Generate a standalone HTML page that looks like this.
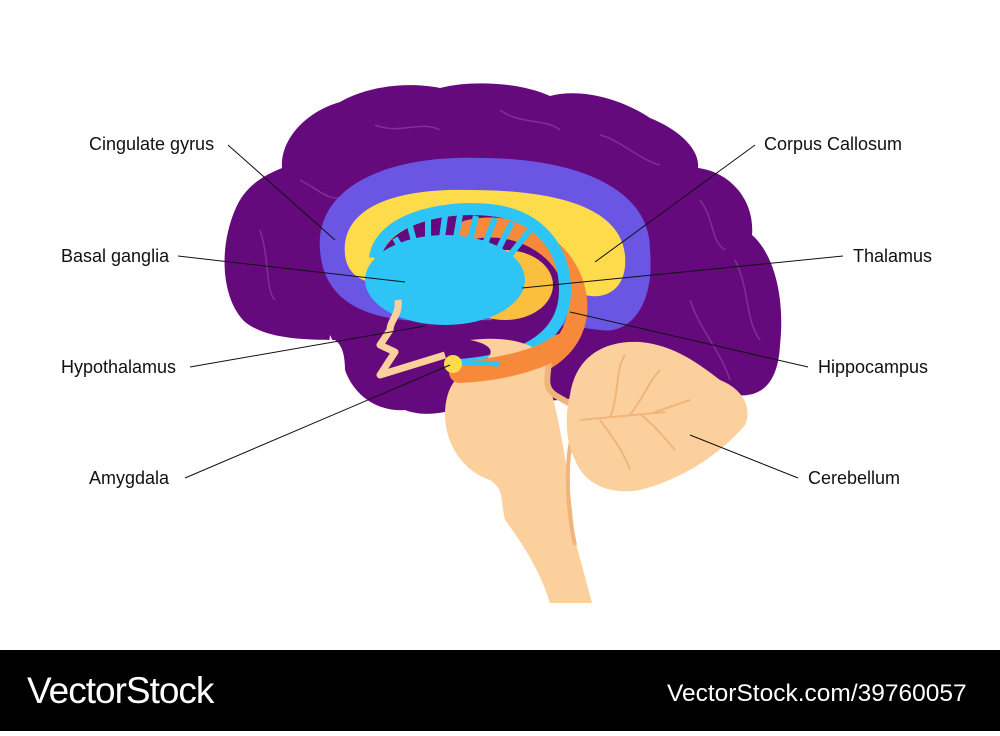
<!DOCTYPE html>
<html><head><style>
body{margin:0;width:1000px;height:731px;background:#fff;overflow:hidden;font-family:"Liberation Sans",sans-serif}
.lbl{font-size:18px;fill:#111}
</style></head><body>
<svg width="1000" height="731" viewBox="0 0 1000 731" xmlns="http://www.w3.org/2000/svg">
<rect width="1000" height="650" fill="#fff"/>
<path d="M245,322 C222,300 218,250 235,210 C245,185 265,175 282,168 C280,140 305,112 340,102 C370,85 410,82 440,88 C470,80 520,82 550,96 C580,88 620,98 650,118 C680,130 700,150 698,168 C730,172 755,200 752,235 C775,255 785,300 780,345 C778,385 760,398 735,395 L650,390 L560,400 L470,405 C450,412 425,418 405,410 C380,412 355,398 345,370 C345,355 342,345 335,340 C300,340 265,338 245,322 Z" fill="#650a7c"/>
<path d="M330,335 C338,350 338,380 345,395 L350,410 L338,405 C332,380 328,350 330,335Z" fill="#fff"/>
<g stroke="#8a3fa0" stroke-width="1.5" fill="none" opacity=".7">
<path d="M375,125 C400,135 420,120 440,130"/><path d="M500,110 C520,125 545,118 560,130"/>
<path d="M600,135 C620,140 640,160 660,165"/><path d="M260,230 C270,260 265,290 275,300"/>
<path d="M735,260 C750,290 745,320 760,340"/><path d="M700,200 C715,220 710,240 725,250"/>
<path d="M300,180 C320,190 325,200 345,198"/><path d="M690,300 C700,330 720,350 730,380"/>
</g>
<path d="M320,250 C315,185 390,155 480,158 C570,158 650,185 650,250 C655,305 630,335 600,330 C560,325 520,320 470,320 C400,325 325,320 320,250Z" fill="#6b55e3"/>
<path d="M345,255 C340,205 400,188 470,190 C550,190 620,205 625,255 C628,290 605,300 585,295 C560,285 520,280 470,280 C420,282 350,300 345,255Z" fill="#fddb4a"/>
<!-- purple interior under fornix -->
<path d="M380,262 C385,225 440,212 490,215 C540,220 562,255 562,295 C562,335 530,355 480,360 L470,330 C500,320 520,300 515,270 Z" fill="#650a7c"/>
<ellipse cx="505" cy="285" rx="48" ry="35" fill="#fbbf3f"/>
<path d="M468,230 C520,218 572,250 577,300 C582,345 540,378 470,378" stroke="#f7893a" stroke-width="20" fill="none" stroke-linecap="round"/>
<path d="M375,258 C380,220 440,205 490,210 C540,215 565,250 565,290 C565,340 520,360 460,365" stroke="#2ec4f6" stroke-width="12" fill="none"/>
<g stroke="#2ec4f6" stroke-width="6"><line x1="390" y1="262" x2="388" y2="252"/><line x1="402" y1="250" x2="395" y2="238"/><line x1="415" y1="245" x2="410" y2="226"/><line x1="428" y1="240" x2="428" y2="220"/><line x1="442" y1="238" x2="445" y2="216"/><line x1="456" y1="238" x2="460" y2="215"/><line x1="470" y1="240" x2="476" y2="216"/><line x1="485" y1="244" x2="495" y2="218"/><line x1="498" y1="250" x2="512" y2="222"/><line x1="510" y1="255" x2="530" y2="230"/></g>
<ellipse cx="445" cy="280" rx="80" ry="45" fill="#2ec4f6"/>
<path d="M398,300 C400,315 390,320 390,330 L380,345 L395,352 L380,375 L445,355" stroke="#fcd09c" stroke-width="7" fill="none" stroke-linejoin="round"/>
<path d="M470,340 C510,335 540,345 545,360 L548,380 C560,420 570,480 575,540 L592,603 L550,603 C540,570 520,540 505,520 C500,500 505,490 490,480 C460,470 445,440 445,415 C445,390 455,375 470,370 C500,355 495,345 470,340Z" fill="#fcd09c"/>
<path d="M548,350 C552,370 540,385 555,395 C580,410 590,415 620,410" stroke="#efb57a" stroke-width="6" fill="none"/>
<path d="M578,425 C565,440 565,500 575,545" stroke="#efb57a" stroke-width="4" fill="none"/>
<path d="M570,395 C575,360 600,340 640,342 C675,345 700,365 720,380 C745,390 752,410 745,425 C720,455 680,480 640,490 C610,495 585,485 575,460 C565,440 565,415 570,395Z" fill="#fcd09c"/>
<g stroke="#efb57a" stroke-width="2" fill="none"><path d="M580,420 L665,412"/><path d="M610,418 C620,390 615,370 625,355"/><path d="M630,415 C645,395 650,380 660,370"/><path d="M600,420 C615,440 625,455 630,470"/><path d="M640,414 C660,430 670,445 675,450"/><path d="M655,412 L690,400"/></g>
<path d="M460,372 C500,370 540,360 560,345" stroke="#f7893a" stroke-width="22" fill="none" stroke-linecap="round"/>
<path d="M455,362 L500,364" stroke="#2ec4f6" stroke-width="5"/>
<circle cx="453" cy="364" r="9" fill="#fddb4a"/>
<g stroke="#111" stroke-width="1">
<line x1="228" y1="145" x2="335" y2="240"/>
<line x1="178" y1="256" x2="405" y2="282"/>
<line x1="190" y1="367" x2="425" y2="326"/>
<line x1="185" y1="478" x2="450" y2="365"/>
<line x1="755" y1="145" x2="595" y2="262"/>
<line x1="843" y1="256" x2="522" y2="288"/>
<line x1="808" y1="367" x2="570" y2="312"/>
<line x1="798" y1="478" x2="690" y2="435"/>
</g>
<text class="lbl" x="89" y="150">Cingulate gyrus</text>
<text class="lbl" x="61" y="262">Basal ganglia</text>
<text class="lbl" x="61" y="373">Hypothalamus</text>
<text class="lbl" x="89" y="484">Amygdala</text>
<text class="lbl" x="764" y="150">Corpus Callosum</text>
<text class="lbl" x="853" y="262">Thalamus</text>
<text class="lbl" x="818" y="373">Hippocampus</text>
<text class="lbl" x="808" y="484">Cerebellum</text>
<rect y="650" width="1000" height="81" fill="#000"/>
<text x="27" y="703" fill="#fff" font-size="37" letter-spacing="-1">VectorStock</text>
<text x="667" y="701" fill="#fff" font-size="24.5">VectorStock.com/39760057</text>
</svg>
</body></html>
